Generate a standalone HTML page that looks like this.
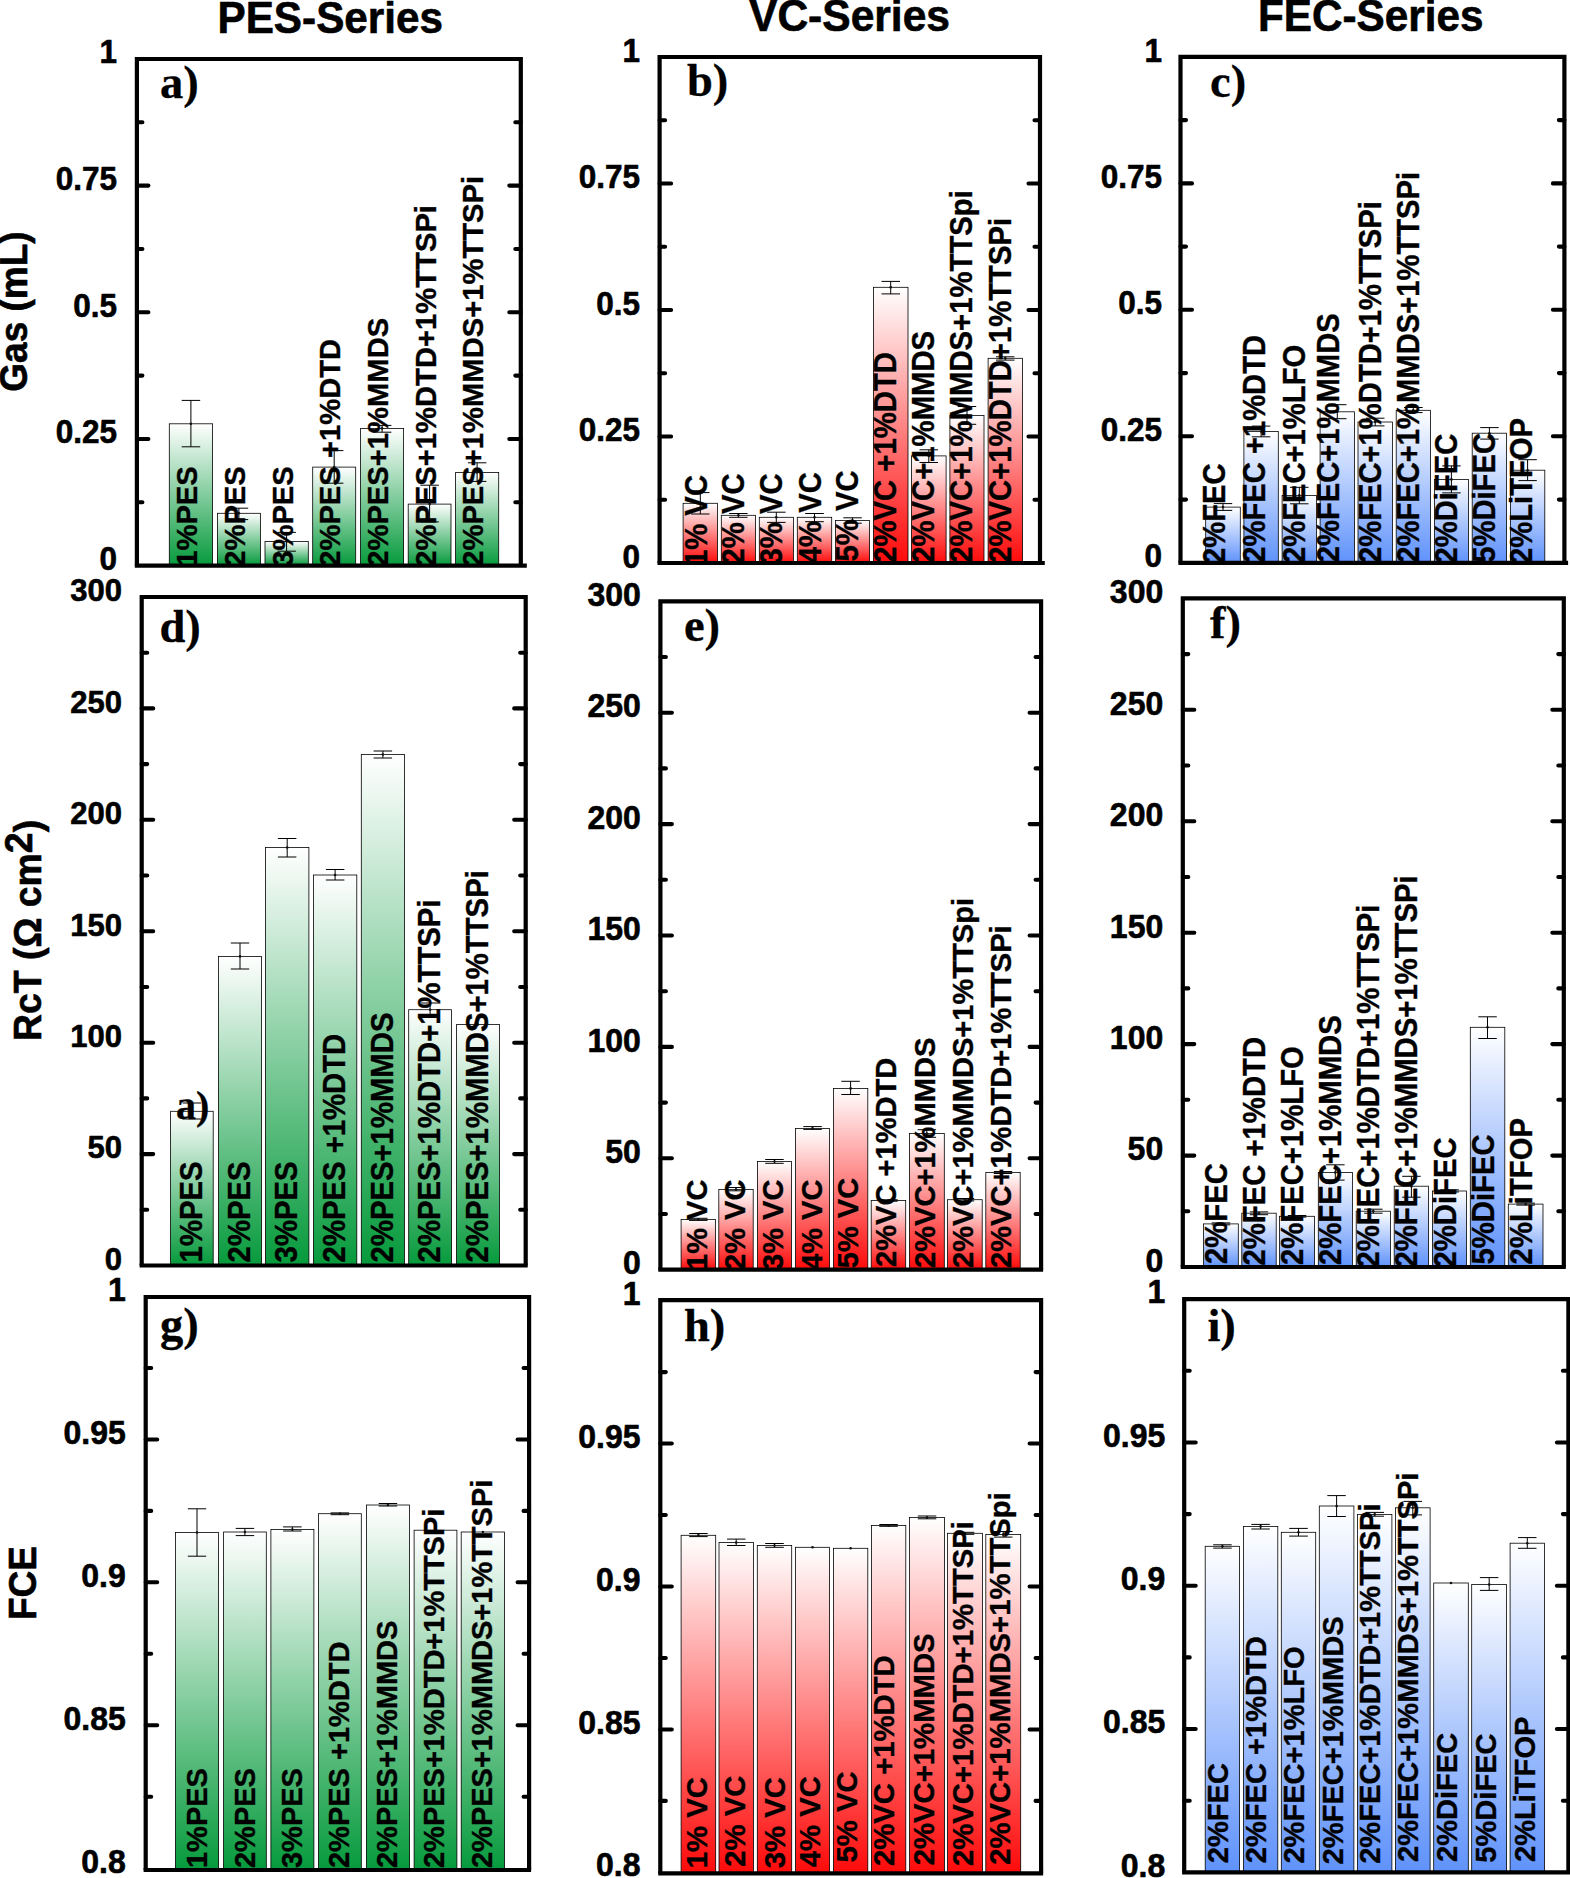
<!DOCTYPE html>
<html lang="en"><head><meta charset="utf-8"><title>Additive series: gas, RcT and FCE</title>
<style>html,body{margin:0;padding:0;background:#fff}body{width:1570px;height:1878px;overflow:hidden}svg{display:block}text{font-family:"Liberation Sans", Arial, Helvetica, sans-serif;font-weight:bold;font-kerning:none;font-variant-ligatures:none;fill:#000;stroke:#000;stroke-width:.6px;stroke-linejoin:round}.bl text{stroke-width:.35px}.ser{font-family:"Liberation Serif", "Times New Roman", Times, serif;stroke-width:.3px}</style>
</head><body>
<svg width="1570" height="1878" viewBox="0 0 1570 1878">
<defs>
<linearGradient id="grg" x1="0" y1="1" x2="0" y2="0"><stop offset="0" stop-color="#069a3c"/><stop offset="1" stop-color="#ffffff"/></linearGradient>
<linearGradient id="grr" x1="0" y1="1" x2="0" y2="0"><stop offset="0" stop-color="#ff0a0a"/><stop offset="1" stop-color="#ffffff"/></linearGradient>
<linearGradient id="grb" x1="0" y1="1" x2="0" y2="0"><stop offset="0" stop-color="#5f92fb"/><stop offset="1" stop-color="#ffffff"/></linearGradient>
<clipPath id="cpa"><rect x="134.9" y="-241.0" width="387.9" height="806.6"/></clipPath>
<clipPath id="cpb"><rect x="657.6" y="-243.0" width="384.4" height="806.0"/></clipPath>
<clipPath id="cpc"><rect x="1178.5" y="-243.1" width="387.9" height="805.9"/></clipPath>
<clipPath id="cpd"><rect x="139.7" y="297.0" width="388.0" height="968.5"/></clipPath>
<clipPath id="cpe"><rect x="658.4" y="301.3" width="384.7" height="968.4"/></clipPath>
<clipPath id="cpf"><rect x="1180.8" y="298.4" width="385.0" height="968.6"/></clipPath>
<clipPath id="cpg"><rect x="143.7" y="997.0" width="387.4" height="873.0"/></clipPath>
<clipPath id="cph"><rect x="658.3" y="1000.2" width="384.8" height="873.2"/></clipPath>
<clipPath id="cpi"><rect x="1182.2" y="999.2" width="388.2" height="873.1"/></clipPath>
</defs>
<rect width="1570" height="1878" fill="#fff"/>
<text transform="translate(217.5 33.0) scale(1 1.040)" font-size="41.8" textLength="225.5" lengthAdjust="spacingAndGlyphs">PES-Series</text>
<text transform="translate(749.0 31.0) scale(1 1.040)" font-size="41.8" textLength="201.0" lengthAdjust="spacingAndGlyphs">VC-Series</text>
<text transform="translate(1258.0 31.0) scale(1 1.040)" font-size="41.8" textLength="225.5" lengthAdjust="spacingAndGlyphs">FEC-Series</text>
<g transform="translate(27.3 391.7) rotate(-90) scale(1 1.040)"><text font-size="37">Gas (mL)</text></g>
<g transform="translate(41.0 1041.0) rotate(-90) scale(1 1.040)"><text font-size="37.4">RcT (&#937; cm<tspan dy="-9">2</tspan><tspan dy="9">)</tspan></text></g>
<g transform="translate(36.3 1620.0) rotate(-90) scale(1 1.040)"><text font-size="37">FCE</text></g>
<g id="panel-a">
<rect x="169.3" y="423.8" width="43.3" height="141.8" fill="url(#grg)" stroke="#000" stroke-width="0.8"/>
<rect x="217.4" y="513.3" width="43.1" height="52.3" fill="url(#grg)" stroke="#000" stroke-width="0.8"/>
<rect x="265.0" y="541.5" width="43.3" height="24.1" fill="url(#grg)" stroke="#000" stroke-width="0.8"/>
<rect x="312.7" y="467.1" width="43.0" height="98.5" fill="url(#grg)" stroke="#000" stroke-width="0.8"/>
<rect x="360.6" y="428.4" width="43.0" height="137.2" fill="url(#grg)" stroke="#000" stroke-width="0.8"/>
<rect x="408.2" y="504.1" width="42.8" height="61.5" fill="url(#grg)" stroke="#000" stroke-width="0.8"/>
<rect x="455.6" y="472.5" width="43.1" height="93.1" fill="url(#grg)" stroke="#000" stroke-width="0.8"/>
<path d="M190.9 400.4V446.8M181.7 400.4H200.2M181.7 446.8H200.2M238.9 508.2V519.6M229.7 508.2H248.2M229.7 519.6H248.2M286.6 532.4V551.2M277.4 532.4H295.9M277.4 551.2H295.9M334.2 450.6V483.2M324.9 450.6H343.4M324.9 483.2H343.4M382.1 425.4V432.2M372.9 425.4H391.4M372.9 432.2H391.4M429.6 485.2V521.9M420.4 485.2H438.9M420.4 521.9H438.9M477.1 462.8V481.4M467.9 462.8H486.4M467.9 481.4H486.4" stroke="#000" stroke-width="1.0" fill="none"/>
<circle cx="190.9" cy="423.8" r="1.3" fill="#111"/>
<circle cx="238.9" cy="513.3" r="1.3" fill="#111"/>
<circle cx="286.6" cy="541.5" r="1.3" fill="#111"/>
<circle cx="334.2" cy="467.1" r="1.3" fill="#111"/>
<circle cx="382.1" cy="428.4" r="1.3" fill="#111"/>
<circle cx="429.6" cy="504.1" r="1.3" fill="#111"/>
<circle cx="477.1" cy="472.5" r="1.3" fill="#111"/>
<g class="bl" clip-path="url(#cpa)">
<text transform="translate(196.9 566.8) rotate(-90) scale(1 1.019)" font-size="29.2">1%PES</text>
<text transform="translate(244.9 566.8) rotate(-90) scale(1 1.019)" font-size="29.2">2%PES</text>
<text transform="translate(292.6 566.8) rotate(-90) scale(1 1.019)" font-size="29.2">3%PES</text>
<text transform="translate(340.2 566.8) rotate(-90) scale(1 1.019)" font-size="29.2">2%PES&#160;+1%DTD</text>
<text transform="translate(388.1 566.8) rotate(-90) scale(1 1.019)" font-size="29.2">2%PES+1%MMDS</text>
<text transform="translate(435.6 566.8) rotate(-90) scale(1 1.019)" font-size="29.2">2%PES+1%DTD+1%TTSPi</text>
<text transform="translate(483.1 566.8) rotate(-90) scale(1 1.019)" font-size="29.2">2%PES+1%MMDS+1%TTSPi</text>
</g>
<path d="M136.9 565.6V59.0H520.8V565.6" stroke="#000" stroke-width="4.2" fill="none" stroke-linejoin="miter"/>
<path d="M134.8 565.6H526.8" stroke="#000" stroke-width="4.2" fill="none"/>
<path d="M136.9 502.3h5.5M520.8 502.3h-5.5M136.9 439.0h11.5M520.8 439.0h-11.5M136.9 375.6h5.5M520.8 375.6h-5.5M136.9 312.3h11.5M520.8 312.3h-11.5M136.9 249.0h5.5M520.8 249.0h-5.5M136.9 185.6h11.5M520.8 185.6h-11.5M136.9 122.3h5.5M520.8 122.3h-5.5" stroke="#000" stroke-width="4.1" fill="none" stroke-linecap="round"/>
<text transform="translate(117.0 569.8) scale(1 1.040)" font-size="31.5" text-anchor="end">0</text>
<text transform="translate(117.0 443.2) scale(1 1.040)" font-size="31.5" text-anchor="end">0.25</text>
<text transform="translate(117.0 316.5) scale(1 1.040)" font-size="31.5" text-anchor="end">0.5</text>
<text transform="translate(117.0 189.8) scale(1 1.040)" font-size="31.5" text-anchor="end">0.75</text>
<text transform="translate(117.0 63.2) scale(1 1.040)" font-size="31.5" text-anchor="end">1</text>
<text class="ser" x="160.0" y="97.8" font-size="46.5">a)</text>
</g>
<g id="panel-b">
<rect x="683.1" y="503.3" width="34.4" height="59.7" fill="url(#grr)" stroke="#000" stroke-width="0.8"/>
<rect x="721.3" y="515.3" width="34.2" height="47.7" fill="url(#grr)" stroke="#000" stroke-width="0.8"/>
<rect x="759.3" y="517.3" width="34.1" height="45.7" fill="url(#grr)" stroke="#000" stroke-width="0.8"/>
<rect x="797.3" y="517.3" width="34.4" height="45.7" fill="url(#grr)" stroke="#000" stroke-width="0.8"/>
<rect x="835.5" y="520.4" width="34.1" height="42.6" fill="url(#grr)" stroke="#000" stroke-width="0.8"/>
<rect x="873.4" y="287.3" width="34.6" height="275.7" fill="url(#grr)" stroke="#000" stroke-width="0.8"/>
<rect x="911.5" y="455.9" width="34.6" height="107.1" fill="url(#grr)" stroke="#000" stroke-width="0.8"/>
<rect x="949.9" y="415.4" width="34.1" height="147.6" fill="url(#grr)" stroke="#000" stroke-width="0.8"/>
<rect x="988.1" y="358.3" width="34.4" height="204.7" fill="url(#grr)" stroke="#000" stroke-width="0.8"/>
<path d="M700.3 492.6V514.0M691.0 492.6H709.5M691.0 514.0H709.5M738.4 513.5V517.3M729.1 513.5H747.6M729.1 517.3H747.6M776.3 512.2V522.4M767.1 512.2H785.6M767.1 522.4H785.6M814.5 513.5V521.7M805.2 513.5H823.8M805.2 521.7H823.8M852.5 517.8V523.2M843.3 517.8H861.8M843.3 523.2H861.8M890.7 281.4V293.9M881.5 281.4H900.0M881.5 293.9H900.0M928.8 449.8V462.5M919.5 449.8H938.0M919.5 462.5H938.0M967.0 406.5V424.3M957.7 406.5H976.2M957.7 424.3H976.2M1005.3 356.8V360.1M996.0 356.8H1014.5M996.0 360.1H1014.5" stroke="#000" stroke-width="1.0" fill="none"/>
<circle cx="700.3" cy="503.3" r="1.3" fill="#111"/>
<circle cx="738.4" cy="515.3" r="1.3" fill="#111"/>
<circle cx="776.3" cy="517.3" r="1.3" fill="#111"/>
<circle cx="814.5" cy="517.3" r="1.3" fill="#111"/>
<circle cx="852.5" cy="520.4" r="1.3" fill="#111"/>
<circle cx="890.7" cy="287.3" r="1.3" fill="#111"/>
<circle cx="928.8" cy="455.9" r="1.3" fill="#111"/>
<circle cx="967.0" cy="415.4" r="1.3" fill="#111"/>
<circle cx="1005.3" cy="358.3" r="1.3" fill="#111"/>
<g class="bl" clip-path="url(#cpb)">
<text transform="translate(707.2 566.1) rotate(-90) scale(1 1.040)" font-size="29.3">1%&#160;VC</text>
<text transform="translate(743.8 564.5) rotate(-90) scale(1 1.040)" font-size="29.3">2%&#160;VC</text>
<text transform="translate(781.7 564.5) rotate(-90) scale(1 1.040)" font-size="29.3">3%&#160;VC</text>
<text transform="translate(820.7 563.3) rotate(-90) scale(1 1.040)" font-size="29.3">4%&#160;VC</text>
<text transform="translate(857.9 561.5) rotate(-90) scale(1 1.040)" font-size="29.3">5%&#160;VC</text>
<text transform="translate(896.1 562.8) rotate(-90) scale(1 1.040)" font-size="29.3">2%VC&#160;+1%DTD</text>
<text transform="translate(934.2 562.8) rotate(-90) scale(1 1.040)" font-size="29.3">2%VC+1%MMDS</text>
<text transform="translate(972.4 562.8) rotate(-90) scale(1 1.040)" font-size="29.3">2%VC+1%MMDS+1%TTSpi</text>
<text transform="translate(1010.7 562.8) rotate(-90) scale(1 1.040)" font-size="29.3">2%VC+1%DTD+1%TTSPi</text>
</g>
<path d="M659.6 563.0V57.0H1040.0V563.0" stroke="#000" stroke-width="4.2" fill="none" stroke-linejoin="miter"/>
<path d="M657.5 563.0H1044.8" stroke="#000" stroke-width="4.2" fill="none"/>
<path d="M659.6 499.8h5.5M1040.0 499.8h-5.5M659.6 436.5h11.5M1040.0 436.5h-11.5M659.6 373.2h5.5M1040.0 373.2h-5.5M659.6 310.0h11.5M1040.0 310.0h-11.5M659.6 246.8h5.5M1040.0 246.8h-5.5M659.6 183.5h11.5M1040.0 183.5h-11.5M659.6 120.2h5.5M1040.0 120.2h-5.5" stroke="#000" stroke-width="4.1" fill="none" stroke-linecap="round"/>
<text transform="translate(640.0 567.8) scale(1 1.040)" font-size="31.5" text-anchor="end">0</text>
<text transform="translate(640.0 441.3) scale(1 1.040)" font-size="31.5" text-anchor="end">0.25</text>
<text transform="translate(640.0 314.8) scale(1 1.040)" font-size="31.5" text-anchor="end">0.5</text>
<text transform="translate(640.0 188.3) scale(1 1.040)" font-size="31.5" text-anchor="end">0.75</text>
<text transform="translate(640.0 61.8) scale(1 1.040)" font-size="31.5" text-anchor="end">1</text>
<text class="ser" x="687.0" y="96.4" font-size="46.5">b)</text>
</g>
<g id="panel-c">
<rect x="1205.7" y="507.1" width="34.6" height="55.7" fill="url(#grb)" stroke="#000" stroke-width="0.8"/>
<rect x="1243.9" y="431.5" width="34.4" height="131.3" fill="url(#grb)" stroke="#000" stroke-width="0.8"/>
<rect x="1282.1" y="495.4" width="34.4" height="67.4" fill="url(#grb)" stroke="#000" stroke-width="0.8"/>
<rect x="1320.1" y="411.8" width="34.4" height="151.0" fill="url(#grb)" stroke="#000" stroke-width="0.8"/>
<rect x="1358.0" y="422.0" width="34.4" height="140.8" fill="url(#grb)" stroke="#000" stroke-width="0.8"/>
<rect x="1396.2" y="410.3" width="34.3" height="152.5" fill="url(#grb)" stroke="#000" stroke-width="0.8"/>
<rect x="1434.4" y="479.4" width="34.0" height="83.4" fill="url(#grb)" stroke="#000" stroke-width="0.8"/>
<rect x="1472.2" y="433.2" width="34.4" height="129.6" fill="url(#grb)" stroke="#000" stroke-width="0.8"/>
<rect x="1510.4" y="470.2" width="34.4" height="92.6" fill="url(#grb)" stroke="#000" stroke-width="0.8"/>
<path d="M1223.0 503.6V510.4M1213.8 503.6H1232.2M1213.8 510.4H1232.2M1261.1 426.1V436.8M1251.8 426.1H1270.3M1251.8 436.8H1270.3M1299.3 487.3V503.8M1290.0 487.3H1308.5M1290.0 503.8H1308.5M1337.3 404.7V418.7M1328.0 404.7H1346.5M1328.0 418.7H1346.5M1375.2 418.2V425.9M1366.0 418.2H1384.5M1366.0 425.9H1384.5M1413.3 407.5V412.6M1404.1 407.5H1422.6M1404.1 412.6H1422.6M1451.4 465.9V492.9M1442.2 465.9H1460.7M1442.2 492.9H1460.7M1489.4 427.6V439.1M1480.2 427.6H1498.7M1480.2 439.1H1498.7M1527.6 459.7V480.6M1518.3 459.7H1536.8M1518.3 480.6H1536.8" stroke="#000" stroke-width="1.0" fill="none"/>
<circle cx="1223.0" cy="507.1" r="1.3" fill="#111"/>
<circle cx="1261.1" cy="431.5" r="1.3" fill="#111"/>
<circle cx="1299.3" cy="495.4" r="1.3" fill="#111"/>
<circle cx="1337.3" cy="411.8" r="1.3" fill="#111"/>
<circle cx="1375.2" cy="422.0" r="1.3" fill="#111"/>
<circle cx="1413.3" cy="410.3" r="1.3" fill="#111"/>
<circle cx="1451.4" cy="479.4" r="1.3" fill="#111"/>
<circle cx="1489.4" cy="433.2" r="1.3" fill="#111"/>
<circle cx="1527.6" cy="470.2" r="1.3" fill="#111"/>
<g class="bl" clip-path="url(#cpc)">
<text transform="translate(1225.0 564.0) rotate(-90) scale(1 1.092)" font-size="29.2">2%FEC</text>
<text transform="translate(1265.4 562.8) rotate(-90) scale(1 1.092)" font-size="29.2">2%FEC&#160;+1%DTD</text>
<text transform="translate(1304.8 563.0) rotate(-90) scale(1 1.092)" font-size="29.2">2%FEC+1%LFO</text>
<text transform="translate(1339.3 562.3) rotate(-90) scale(1 1.092)" font-size="29.2">2%FEC+1%MMDS</text>
<text transform="translate(1380.7 563.0) rotate(-90) scale(1 1.092)" font-size="29.2">2%FEC+1%DTD+1%TTSPi</text>
<text transform="translate(1418.8 562.8) rotate(-90) scale(1 1.092)" font-size="29.2">2%FEC+1%MMDS+1%TTSPi</text>
<text transform="translate(1456.9 563.5) rotate(-90) scale(1 1.092)" font-size="29.2">2%DiFEC</text>
<text transform="translate(1494.9 562.8) rotate(-90) scale(1 1.092)" font-size="29.2">5%DiFEC</text>
<text transform="translate(1531.9 564.0) rotate(-90) scale(1 1.092)" font-size="29.2">2%LiTFOP</text>
</g>
<path d="M1180.5 562.8V56.9H1564.4V562.8" stroke="#000" stroke-width="4.2" fill="none" stroke-linejoin="miter"/>
<path d="M1178.4 562.8H1568.1" stroke="#000" stroke-width="4.2" fill="none"/>
<path d="M1180.5 499.6h5.5M1564.4 499.6h-5.5M1180.5 436.3h11.5M1564.4 436.3h-11.5M1180.5 373.1h5.5M1564.4 373.1h-5.5M1180.5 309.8h11.5M1564.4 309.8h-11.5M1180.5 246.6h5.5M1564.4 246.6h-5.5M1180.5 183.4h11.5M1564.4 183.4h-11.5M1180.5 120.1h5.5M1564.4 120.1h-5.5" stroke="#000" stroke-width="4.1" fill="none" stroke-linecap="round"/>
<text transform="translate(1162.0 567.4) scale(1 1.040)" font-size="31.5" text-anchor="end">0</text>
<text transform="translate(1162.0 440.9) scale(1 1.040)" font-size="31.5" text-anchor="end">0.25</text>
<text transform="translate(1162.0 314.4) scale(1 1.040)" font-size="31.5" text-anchor="end">0.5</text>
<text transform="translate(1162.0 188.0) scale(1 1.040)" font-size="31.5" text-anchor="end">0.75</text>
<text transform="translate(1162.0 61.5) scale(1 1.040)" font-size="31.5" text-anchor="end">1</text>
<text class="ser" x="1210.0" y="97.0" font-size="46.5">c)</text>
</g>
<g id="panel-d">
<rect x="170.6" y="1111.3" width="42.6" height="154.2" fill="url(#grg)" stroke="#000" stroke-width="0.8"/>
<rect x="218.5" y="956.4" width="43.0" height="309.1" fill="url(#grg)" stroke="#000" stroke-width="0.8"/>
<rect x="265.5" y="847.5" width="43.4" height="418.0" fill="url(#grg)" stroke="#000" stroke-width="0.8"/>
<rect x="313.4" y="875.0" width="43.4" height="390.5" fill="url(#grg)" stroke="#000" stroke-width="0.8"/>
<rect x="361.3" y="754.5" width="43.1" height="511.0" fill="url(#grg)" stroke="#000" stroke-width="0.8"/>
<rect x="408.7" y="1009.7" width="42.8" height="255.8" fill="url(#grg)" stroke="#000" stroke-width="0.8"/>
<rect x="456.6" y="1024.5" width="42.8" height="241.0" fill="url(#grg)" stroke="#000" stroke-width="0.8"/>
<path d="M191.9 1103.0V1119.0M182.6 1103.0H201.1M182.6 1119.0H201.1M240.0 943.0V969.0M230.8 943.0H249.2M230.8 969.0H249.2M287.2 838.5V857.0M277.9 838.5H296.4M277.9 857.0H296.4M335.1 869.5V880.0M325.9 869.5H344.4M325.9 880.0H344.4M382.9 751.0V758.0M373.6 751.0H392.1M373.6 758.0H392.1M430.1 1003.0V1016.0M420.9 1003.0H439.4M420.9 1016.0H439.4" stroke="#000" stroke-width="1.0" fill="none"/>
<circle cx="191.9" cy="1111.3" r="1.3" fill="#111"/>
<circle cx="240.0" cy="956.4" r="1.3" fill="#111"/>
<circle cx="287.2" cy="847.5" r="1.3" fill="#111"/>
<circle cx="335.1" cy="875.0" r="1.3" fill="#111"/>
<circle cx="382.9" cy="754.5" r="1.3" fill="#111"/>
<circle cx="430.1" cy="1009.7" r="1.3" fill="#111"/>
<circle cx="478.0" cy="1024.5" r="1.3" fill="#111"/>
<g class="bl" clip-path="url(#cpd)">
<text transform="translate(201.8 1262.4) rotate(-90) scale(1 1.040)" font-size="29.3">1%PES</text>
<text transform="translate(249.9 1262.4) rotate(-90) scale(1 1.040)" font-size="29.3">2%PES</text>
<text transform="translate(297.1 1262.4) rotate(-90) scale(1 1.040)" font-size="29.3">3%PES</text>
<text transform="translate(345.0 1262.4) rotate(-90) scale(1 1.040)" font-size="29.3">2%PES&#160;+1%DTD</text>
<text transform="translate(392.8 1262.4) rotate(-90) scale(1 1.040)" font-size="29.3">2%PES+1%MMDS</text>
<text transform="translate(440.0 1262.4) rotate(-90) scale(1 1.040)" font-size="29.3">2%PES+1%DTD+1%TTSPi</text>
<text transform="translate(487.9 1262.4) rotate(-90) scale(1 1.040)" font-size="29.3">2%PES+1%MMDS+1%TTSPi</text>
</g>
<path d="M141.7 1265.5V597.0H525.7V1265.5" stroke="#000" stroke-width="4.2" fill="none" stroke-linejoin="miter"/>
<path d="M139.6 1265.5H527.7" stroke="#000" stroke-width="4.2" fill="none"/>
<path d="M141.7 1209.8h5.5M525.7 1209.8h-5.5M141.7 1154.1h11.5M525.7 1154.1h-11.5M141.7 1098.4h5.5M525.7 1098.4h-5.5M141.7 1042.7h11.5M525.7 1042.7h-11.5M141.7 987.0h5.5M525.7 987.0h-5.5M141.7 931.2h11.5M525.7 931.2h-11.5M141.7 875.5h5.5M525.7 875.5h-5.5M141.7 819.8h11.5M525.7 819.8h-11.5M141.7 764.1h5.5M525.7 764.1h-5.5M141.7 708.4h11.5M525.7 708.4h-11.5M141.7 652.7h5.5M525.7 652.7h-5.5" stroke="#000" stroke-width="4.1" fill="none" stroke-linecap="round"/>
<text transform="translate(122.0 1269.8) scale(1 1.040)" font-size="31.0" text-anchor="end">0</text>
<text transform="translate(122.0 1158.4) scale(1 1.040)" font-size="31.0" text-anchor="end">50</text>
<text transform="translate(122.0 1047.0) scale(1 1.040)" font-size="31.0" text-anchor="end">100</text>
<text transform="translate(122.0 935.5) scale(1 1.040)" font-size="31.0" text-anchor="end">150</text>
<text transform="translate(122.0 824.1) scale(1 1.040)" font-size="31.0" text-anchor="end">200</text>
<text transform="translate(122.0 712.7) scale(1 1.040)" font-size="31.0" text-anchor="end">250</text>
<text transform="translate(122.0 601.3) scale(1 1.040)" font-size="31.0" text-anchor="end">300</text>
<text class="ser" x="159.5" y="641.8" font-size="46.5">d)</text>
<text class="ser" x="175.9" y="1118.6" font-size="40">a)</text>
</g>
<g id="panel-e">
<rect x="681.1" y="1219.4" width="34.4" height="50.3" fill="url(#grr)" stroke="#000" stroke-width="0.8"/>
<rect x="718.8" y="1189.6" width="34.4" height="80.1" fill="url(#grr)" stroke="#000" stroke-width="0.8"/>
<rect x="757.5" y="1161.5" width="33.9" height="108.2" fill="url(#grr)" stroke="#000" stroke-width="0.8"/>
<rect x="795.5" y="1128.4" width="34.1" height="141.3" fill="url(#grr)" stroke="#000" stroke-width="0.8"/>
<rect x="833.4" y="1088.4" width="34.4" height="181.3" fill="url(#grr)" stroke="#000" stroke-width="0.8"/>
<rect x="871.2" y="1200.4" width="34.5" height="69.3" fill="url(#grr)" stroke="#000" stroke-width="0.8"/>
<rect x="909.4" y="1133.5" width="34.9" height="136.2" fill="url(#grr)" stroke="#000" stroke-width="0.8"/>
<rect x="947.6" y="1199.7" width="34.6" height="70.0" fill="url(#grr)" stroke="#000" stroke-width="0.8"/>
<rect x="985.8" y="1172.5" width="34.4" height="97.2" fill="url(#grr)" stroke="#000" stroke-width="0.8"/>
<path d="M698.3 1218.3V1220.4M689.0 1218.3H707.5M689.0 1220.4H707.5M736.0 1187.5V1190.8M726.8 1187.5H745.2M726.8 1190.8H745.2M774.5 1159.5V1163.3M765.2 1159.5H783.7M765.2 1163.3H783.7M812.5 1126.6V1129.4M803.3 1126.6H821.8M803.3 1129.4H821.8M850.6 1081.3V1094.5M841.3 1081.3H859.8M841.3 1094.5H859.8M888.5 1199.8V1201.2M879.2 1199.8H897.7M879.2 1201.2H897.7M926.8 1129.7V1137.3M917.6 1129.7H936.1M917.6 1137.3H936.1M964.9 1198.5V1200.9M955.7 1198.5H974.2M955.7 1200.9H974.2M1003.0 1171.5V1173.5M993.8 1171.5H1012.2M993.8 1173.5H1012.2" stroke="#000" stroke-width="1.0" fill="none"/>
<circle cx="698.3" cy="1219.4" r="1.3" fill="#111"/>
<circle cx="736.0" cy="1189.6" r="1.3" fill="#111"/>
<circle cx="774.5" cy="1161.5" r="1.3" fill="#111"/>
<circle cx="812.5" cy="1128.4" r="1.3" fill="#111"/>
<circle cx="850.6" cy="1088.4" r="1.3" fill="#111"/>
<circle cx="888.5" cy="1200.4" r="1.3" fill="#111"/>
<circle cx="926.8" cy="1133.5" r="1.3" fill="#111"/>
<circle cx="964.9" cy="1199.7" r="1.3" fill="#111"/>
<circle cx="1003.0" cy="1172.5" r="1.3" fill="#111"/>
<g class="bl" clip-path="url(#cpe)">
<text transform="translate(706.7 1270.0) rotate(-90) scale(1 1.040)" font-size="29.1">1%&#160;VC</text>
<text transform="translate(745.1 1270.0) rotate(-90) scale(1 1.040)" font-size="29.1">2%&#160;VC</text>
<text transform="translate(782.9 1270.0) rotate(-90) scale(1 1.040)" font-size="29.1">3%&#160;VC</text>
<text transform="translate(822.2 1270.0) rotate(-90) scale(1 1.040)" font-size="29.1">4%&#160;VC</text>
<text transform="translate(858.2 1268.3) rotate(-90) scale(1 1.040)" font-size="29.1">5%&#160;VC</text>
<text transform="translate(896.1 1267.0) rotate(-90) scale(1 1.040)" font-size="29.1">2%VC&#160;+1%DTD</text>
<text transform="translate(934.5 1268.0) rotate(-90) scale(1 1.040)" font-size="29.1">2%VC+1%MMDS</text>
<text transform="translate(972.6 1268.0) rotate(-90) scale(1 1.040)" font-size="29.1">2%VC+1%MMDS+1%TTSpi</text>
<text transform="translate(1010.6 1268.0) rotate(-90) scale(1 1.040)" font-size="29.1">2%VC+1%DTD+1%TTSPi</text>
</g>
<path d="M660.4 1269.7V601.3H1041.1V1269.7" stroke="#000" stroke-width="4.2" fill="none" stroke-linejoin="miter"/>
<path d="M658.3 1269.7H1043.1" stroke="#000" stroke-width="4.2" fill="none"/>
<path d="M660.4 1214.0h5.5M1041.1 1214.0h-5.5M660.4 1158.3h11.5M1041.1 1158.3h-11.5M660.4 1102.6h5.5M1041.1 1102.6h-5.5M660.4 1046.9h11.5M1041.1 1046.9h-11.5M660.4 991.2h5.5M1041.1 991.2h-5.5M660.4 935.5h11.5M1041.1 935.5h-11.5M660.4 879.8h5.5M1041.1 879.8h-5.5M660.4 824.1h11.5M1041.1 824.1h-11.5M660.4 768.4h5.5M1041.1 768.4h-5.5M660.4 712.7h11.5M1041.1 712.7h-11.5M660.4 657.0h5.5M1041.1 657.0h-5.5" stroke="#000" stroke-width="4.1" fill="none" stroke-linecap="round"/>
<text transform="translate(640.8 1274.3) scale(1 1.040)" font-size="32.0" text-anchor="end">0</text>
<text transform="translate(640.8 1162.9) scale(1 1.040)" font-size="32.0" text-anchor="end">50</text>
<text transform="translate(640.8 1051.5) scale(1 1.040)" font-size="32.0" text-anchor="end">100</text>
<text transform="translate(640.8 940.1) scale(1 1.040)" font-size="32.0" text-anchor="end">150</text>
<text transform="translate(640.8 828.7) scale(1 1.040)" font-size="32.0" text-anchor="end">200</text>
<text transform="translate(640.8 717.3) scale(1 1.040)" font-size="32.0" text-anchor="end">250</text>
<text transform="translate(640.8 605.9) scale(1 1.040)" font-size="32.0" text-anchor="end">300</text>
<text class="ser" x="683.9" y="641.2" font-size="46.5">e)</text>
</g>
<g id="panel-f">
<rect x="1203.6" y="1223.9" width="34.7" height="43.1" fill="url(#grb)" stroke="#000" stroke-width="0.8"/>
<rect x="1241.8" y="1213.2" width="34.4" height="53.8" fill="url(#grb)" stroke="#000" stroke-width="0.8"/>
<rect x="1279.6" y="1216.3" width="34.9" height="50.7" fill="url(#grb)" stroke="#000" stroke-width="0.8"/>
<rect x="1318.3" y="1172.5" width="34.1" height="94.5" fill="url(#grb)" stroke="#000" stroke-width="0.8"/>
<rect x="1356.2" y="1211.2" width="34.2" height="55.8" fill="url(#grb)" stroke="#000" stroke-width="0.8"/>
<rect x="1394.2" y="1186.2" width="34.4" height="80.8" fill="url(#grb)" stroke="#000" stroke-width="0.8"/>
<rect x="1432.5" y="1191.0" width="34.0" height="76.0" fill="url(#grb)" stroke="#000" stroke-width="0.8"/>
<rect x="1470.3" y="1027.3" width="34.5" height="239.7" fill="url(#grb)" stroke="#000" stroke-width="0.8"/>
<rect x="1508.3" y="1204.1" width="34.7" height="62.9" fill="url(#grb)" stroke="#000" stroke-width="0.8"/>
<path d="M1220.9 1222.9V1224.9M1211.7 1222.9H1230.2M1211.7 1224.9H1230.2M1259.0 1211.9V1214.7M1249.8 1211.9H1268.2M1249.8 1214.7H1268.2M1297.0 1215.5V1217.1M1287.8 1215.5H1306.3M1287.8 1217.1H1306.3M1335.3 1164.8V1180.1M1326.1 1164.8H1344.6M1326.1 1180.1H1344.6M1373.3 1209.2V1213.2M1364.1 1209.2H1382.6M1364.1 1213.2H1382.6M1411.4 1176.3V1197.2M1402.2 1176.3H1420.7M1402.2 1197.2H1420.7M1449.5 1189.8V1192.0M1440.2 1189.8H1458.8M1440.2 1192.0H1458.8M1487.5 1016.8V1038.5M1478.3 1016.8H1496.8M1478.3 1038.5H1496.8M1525.7 1203.1V1205.1M1516.4 1203.1H1534.9M1516.4 1205.1H1534.9" stroke="#000" stroke-width="1.0" fill="none"/>
<circle cx="1220.9" cy="1223.9" r="1.3" fill="#111"/>
<circle cx="1259.0" cy="1213.2" r="1.3" fill="#111"/>
<circle cx="1297.0" cy="1216.3" r="1.3" fill="#111"/>
<circle cx="1335.3" cy="1172.5" r="1.3" fill="#111"/>
<circle cx="1373.3" cy="1211.2" r="1.3" fill="#111"/>
<circle cx="1411.4" cy="1186.2" r="1.3" fill="#111"/>
<circle cx="1449.5" cy="1191.0" r="1.3" fill="#111"/>
<circle cx="1487.5" cy="1027.3" r="1.3" fill="#111"/>
<circle cx="1525.7" cy="1204.1" r="1.3" fill="#111"/>
<g class="bl" clip-path="url(#cpf)">
<text transform="translate(1226.9 1264.1) rotate(-90) scale(1 1.056)" font-size="29.3">2%FEC</text>
<text transform="translate(1265.0 1265.6) rotate(-90) scale(1 1.056)" font-size="29.3">2%FEC&#160;+1%DTD</text>
<text transform="translate(1303.0 1265.1) rotate(-90) scale(1 1.056)" font-size="29.3">2%FEC+1%LFO</text>
<text transform="translate(1341.3 1265.1) rotate(-90) scale(1 1.056)" font-size="29.3">2%FEC+1%MMDS</text>
<text transform="translate(1379.3 1267.6) rotate(-90) scale(1 1.056)" font-size="29.3">2%FEC+1%DTD+1%TTSPi</text>
<text transform="translate(1417.4 1267.6) rotate(-90) scale(1 1.056)" font-size="29.3">2%FEC+1%MMDS+1%TTSPi</text>
<text transform="translate(1455.5 1267.6) rotate(-90) scale(1 1.056)" font-size="29.3">2%DiFEC</text>
<text transform="translate(1493.5 1264.6) rotate(-90) scale(1 1.056)" font-size="29.3">5%DiFEC</text>
<text transform="translate(1531.7 1264.4) rotate(-90) scale(1 1.056)" font-size="29.3">2%LiTFOP</text>
</g>
<path d="M1182.8 1267.0V598.4H1563.8V1267.0" stroke="#000" stroke-width="4.2" fill="none" stroke-linejoin="miter"/>
<path d="M1180.7 1267.0H1565.8" stroke="#000" stroke-width="4.2" fill="none"/>
<path d="M1182.8 1211.3h5.5M1563.8 1211.3h-5.5M1182.8 1155.6h11.5M1563.8 1155.6h-11.5M1182.8 1099.8h5.5M1563.8 1099.8h-5.5M1182.8 1044.1h11.5M1563.8 1044.1h-11.5M1182.8 988.4h5.5M1563.8 988.4h-5.5M1182.8 932.7h11.5M1563.8 932.7h-11.5M1182.8 877.0h5.5M1563.8 877.0h-5.5M1182.8 821.3h11.5M1563.8 821.3h-11.5M1182.8 765.5h5.5M1563.8 765.5h-5.5M1182.8 709.8h11.5M1563.8 709.8h-11.5M1182.8 654.1h5.5M1563.8 654.1h-5.5" stroke="#000" stroke-width="4.1" fill="none" stroke-linecap="round"/>
<text transform="translate(1163.2 1271.8) scale(1 1.040)" font-size="32.0" text-anchor="end">0</text>
<text transform="translate(1163.2 1160.4) scale(1 1.040)" font-size="32.0" text-anchor="end">50</text>
<text transform="translate(1163.2 1048.9) scale(1 1.040)" font-size="32.0" text-anchor="end">100</text>
<text transform="translate(1163.2 937.5) scale(1 1.040)" font-size="32.0" text-anchor="end">150</text>
<text transform="translate(1163.2 826.1) scale(1 1.040)" font-size="32.0" text-anchor="end">200</text>
<text transform="translate(1163.2 714.6) scale(1 1.040)" font-size="32.0" text-anchor="end">250</text>
<text transform="translate(1163.2 603.2) scale(1 1.040)" font-size="32.0" text-anchor="end">300</text>
<text class="ser" x="1210.0" y="637.7" font-size="46.5">f)</text>
</g>
<g id="panel-g">
<rect x="175.4" y="1532.5" width="43.2" height="337.5" fill="url(#grg)" stroke="#000" stroke-width="0.8"/>
<rect x="223.6" y="1532.0" width="42.7" height="338.0" fill="url(#grg)" stroke="#000" stroke-width="0.8"/>
<rect x="270.9" y="1529.5" width="43.0" height="340.5" fill="url(#grg)" stroke="#000" stroke-width="0.8"/>
<rect x="318.5" y="1513.7" width="42.8" height="356.3" fill="url(#grg)" stroke="#000" stroke-width="0.8"/>
<rect x="366.4" y="1505.0" width="43.1" height="365.0" fill="url(#grg)" stroke="#000" stroke-width="0.8"/>
<rect x="414.1" y="1530.2" width="42.8" height="339.8" fill="url(#grg)" stroke="#000" stroke-width="0.8"/>
<rect x="461.2" y="1532.0" width="43.3" height="338.0" fill="url(#grg)" stroke="#000" stroke-width="0.8"/>
<path d="M197.0 1508.8V1556.2M187.8 1508.8H206.2M187.8 1556.2H206.2M244.9 1528.4V1535.6M235.7 1528.4H254.2M235.7 1535.6H254.2M292.4 1526.9V1531.0M283.1 1526.9H301.6M283.1 1531.0H301.6M339.9 1512.9V1514.7M330.6 1512.9H349.1M330.6 1514.7H349.1M387.9 1503.5V1506.0M378.7 1503.5H397.2M378.7 1506.0H397.2" stroke="#000" stroke-width="1.0" fill="none"/>
<circle cx="197.0" cy="1532.5" r="1.3" fill="#111"/>
<circle cx="244.9" cy="1532.0" r="1.3" fill="#111"/>
<circle cx="292.4" cy="1529.5" r="1.3" fill="#111"/>
<circle cx="339.9" cy="1513.7" r="1.3" fill="#111"/>
<circle cx="387.9" cy="1505.0" r="1.3" fill="#111"/>
<circle cx="435.5" cy="1530.2" r="1.3" fill="#111"/>
<circle cx="482.9" cy="1532.0" r="1.3" fill="#111"/>
<g class="bl" clip-path="url(#cpg)">
<text transform="translate(207.0 1868.0) rotate(-90) scale(1 1.040)" font-size="29.0">1%PES</text>
<text transform="translate(254.9 1868.0) rotate(-90) scale(1 1.040)" font-size="29.0">2%PES</text>
<text transform="translate(302.4 1868.0) rotate(-90) scale(1 1.040)" font-size="29.0">3%PES</text>
<text transform="translate(348.9 1868.0) rotate(-90) scale(1 1.040)" font-size="29.0">2%PES&#160;+1%DTD</text>
<text transform="translate(397.2 1868.0) rotate(-90) scale(1 1.040)" font-size="29.0">2%PES+1%MMDS</text>
<text transform="translate(444.1 1868.0) rotate(-90) scale(1 1.040)" font-size="29.0">2%PES+1%DTD+1%TTSPi</text>
<text transform="translate(492.4 1868.0) rotate(-90) scale(1 1.040)" font-size="29.0">2%PES+1%MMDS+1%TTSPi</text>
</g>
<path d="M145.7 1870.0V1297.0H529.1V1870.0" stroke="#000" stroke-width="4.2" fill="none" stroke-linejoin="miter"/>
<path d="M143.6 1870.0H531.1" stroke="#000" stroke-width="4.2" fill="none"/>
<path d="M145.7 1796.7h5.5M529.1 1796.7h-5.5M145.7 1725.2h11.5M529.1 1725.2h-11.5M145.7 1653.8h5.5M529.1 1653.8h-5.5M145.7 1582.3h11.5M529.1 1582.3h-11.5M145.7 1510.9h5.5M529.1 1510.9h-5.5M145.7 1439.5h11.5M529.1 1439.5h-11.5M145.7 1368.0h5.5M529.1 1368.0h-5.5" stroke="#000" stroke-width="4.1" fill="none" stroke-linecap="round"/>
<text transform="translate(125.8 1872.5) scale(1 1.040)" font-size="32.0" text-anchor="end">0.8</text>
<text transform="translate(125.8 1729.6) scale(1 1.040)" font-size="32.0" text-anchor="end">0.85</text>
<text transform="translate(125.8 1586.8) scale(1 1.040)" font-size="32.0" text-anchor="end">0.9</text>
<text transform="translate(125.8 1443.9) scale(1 1.040)" font-size="32.0" text-anchor="end">0.95</text>
<text transform="translate(125.8 1301.0) scale(1 1.040)" font-size="32.0" text-anchor="end">1</text>
<text class="ser" x="160.0" y="1340.2" font-size="46.5">g)</text>
</g>
<g id="panel-h">
<rect x="681.1" y="1535.3" width="34.6" height="338.1" fill="url(#grr)" stroke="#000" stroke-width="0.8"/>
<rect x="719.0" y="1542.5" width="34.4" height="330.9" fill="url(#grr)" stroke="#000" stroke-width="0.8"/>
<rect x="757.3" y="1545.5" width="34.4" height="327.9" fill="url(#grr)" stroke="#000" stroke-width="0.8"/>
<rect x="795.5" y="1547.3" width="34.1" height="326.1" fill="url(#grr)" stroke="#000" stroke-width="0.8"/>
<rect x="833.4" y="1548.3" width="34.4" height="325.1" fill="url(#grr)" stroke="#000" stroke-width="0.8"/>
<rect x="871.4" y="1525.4" width="34.4" height="348.0" fill="url(#grr)" stroke="#000" stroke-width="0.8"/>
<rect x="909.6" y="1517.5" width="34.9" height="355.9" fill="url(#grr)" stroke="#000" stroke-width="0.8"/>
<rect x="947.6" y="1533.3" width="34.9" height="340.1" fill="url(#grr)" stroke="#000" stroke-width="0.8"/>
<rect x="985.8" y="1534.6" width="34.9" height="338.8" fill="url(#grr)" stroke="#000" stroke-width="0.8"/>
<path d="M698.4 1533.5V1536.6M689.2 1533.5H707.7M689.2 1536.6H707.7M736.2 1539.1V1545.5M727.0 1539.1H745.5M727.0 1545.5H745.5M774.5 1543.5V1547.3M765.2 1543.5H783.8M765.2 1547.3H783.8M888.6 1524.5V1526.3M879.3 1524.5H897.8M879.3 1526.3H897.8M927.0 1516.0V1518.8M917.8 1516.0H936.3M917.8 1518.8H936.3M965.0 1532.3V1534.3M955.8 1532.3H974.3M955.8 1534.3H974.3M1003.2 1531.5V1537.1M994.0 1531.5H1012.5M994.0 1537.1H1012.5" stroke="#000" stroke-width="1.0" fill="none"/>
<circle cx="698.4" cy="1535.3" r="1.3" fill="#111"/>
<circle cx="736.2" cy="1542.5" r="1.3" fill="#111"/>
<circle cx="774.5" cy="1545.5" r="1.3" fill="#111"/>
<circle cx="812.5" cy="1547.3" r="1.3" fill="#111"/>
<circle cx="850.6" cy="1548.3" r="1.3" fill="#111"/>
<circle cx="888.6" cy="1525.4" r="1.3" fill="#111"/>
<circle cx="927.0" cy="1517.5" r="1.3" fill="#111"/>
<circle cx="965.0" cy="1533.3" r="1.3" fill="#111"/>
<circle cx="1003.2" cy="1534.6" r="1.3" fill="#111"/>
<g class="bl" clip-path="url(#cph)">
<text transform="translate(706.9 1868.3) rotate(-90) scale(1 1.019)" font-size="29.3">1%&#160;VC</text>
<text transform="translate(745.1 1866.7) rotate(-90) scale(1 1.019)" font-size="29.3">2%&#160;VC</text>
<text transform="translate(784.6 1868.3) rotate(-90) scale(1 1.019)" font-size="29.3">3%&#160;VC</text>
<text transform="translate(820.3 1867.2) rotate(-90) scale(1 1.019)" font-size="29.3">4%&#160;VC</text>
<text transform="translate(857.2 1862.5) rotate(-90) scale(1 1.019)" font-size="29.3">5%&#160;VC</text>
<text transform="translate(894.0 1866.0) rotate(-90) scale(1 1.019)" font-size="29.3">2%VC&#160;+1%DTD</text>
<text transform="translate(933.6 1865.3) rotate(-90) scale(1 1.019)" font-size="29.3">2%VC+1%MMDS</text>
<text transform="translate(972.8 1866.0) rotate(-90) scale(1 1.019)" font-size="29.3">2%VC+1%DTD+1%TTSPi</text>
<text transform="translate(1009.9 1864.8) rotate(-90) scale(1 1.019)" font-size="29.3">2%VC+1%MMDS+1%TTSpi</text>
</g>
<path d="M660.3 1873.4V1300.2H1041.1V1873.4" stroke="#000" stroke-width="4.2" fill="none" stroke-linejoin="miter"/>
<path d="M658.2 1873.4H1043.1" stroke="#000" stroke-width="4.2" fill="none"/>
<path d="M660.3 1800.9h5.5M1041.1 1800.9h-5.5M660.3 1729.5h11.5M1041.1 1729.5h-11.5M660.3 1658.0h5.5M1041.1 1658.0h-5.5M660.3 1586.5h11.5M1041.1 1586.5h-11.5M660.3 1515.0h5.5M1041.1 1515.0h-5.5M660.3 1443.5h11.5M1041.1 1443.5h-11.5M660.3 1372.1h5.5M1041.1 1372.1h-5.5" stroke="#000" stroke-width="4.1" fill="none" stroke-linecap="round"/>
<text transform="translate(640.5 1876.4) scale(1 1.040)" font-size="32.0" text-anchor="end">0.8</text>
<text transform="translate(640.5 1733.5) scale(1 1.040)" font-size="32.0" text-anchor="end">0.85</text>
<text transform="translate(640.5 1590.5) scale(1 1.040)" font-size="32.0" text-anchor="end">0.9</text>
<text transform="translate(640.5 1447.5) scale(1 1.040)" font-size="32.0" text-anchor="end">0.95</text>
<text transform="translate(640.5 1304.6) scale(1 1.040)" font-size="32.0" text-anchor="end">1</text>
<text class="ser" x="683.9" y="1340.9" font-size="46.5">h)</text>
</g>
<g id="panel-i">
<rect x="1205.2" y="1546.3" width="34.4" height="326.0" fill="url(#grb)" stroke="#000" stroke-width="0.8"/>
<rect x="1243.4" y="1526.4" width="34.4" height="345.9" fill="url(#grb)" stroke="#000" stroke-width="0.8"/>
<rect x="1281.3" y="1532.3" width="34.4" height="340.0" fill="url(#grb)" stroke="#000" stroke-width="0.8"/>
<rect x="1319.3" y="1506.0" width="34.6" height="366.3" fill="url(#grb)" stroke="#000" stroke-width="0.8"/>
<rect x="1357.5" y="1514.4" width="34.4" height="357.9" fill="url(#grb)" stroke="#000" stroke-width="0.8"/>
<rect x="1395.5" y="1507.8" width="34.6" height="364.5" fill="url(#grb)" stroke="#000" stroke-width="0.8"/>
<rect x="1433.7" y="1583.0" width="34.6" height="289.3" fill="url(#grb)" stroke="#000" stroke-width="0.8"/>
<rect x="1471.7" y="1584.5" width="34.9" height="287.8" fill="url(#grb)" stroke="#000" stroke-width="0.8"/>
<rect x="1510.1" y="1543.2" width="34.4" height="329.1" fill="url(#grb)" stroke="#000" stroke-width="0.8"/>
<path d="M1222.4 1544.8V1548.1M1213.2 1544.8H1231.7M1213.2 1548.1H1231.7M1260.6 1524.4V1529.0M1251.3 1524.4H1269.8M1251.3 1529.0H1269.8M1298.5 1528.4V1536.1M1289.2 1528.4H1307.8M1289.2 1536.1H1307.8M1336.6 1495.6V1516.5M1327.3 1495.6H1345.8M1327.3 1516.5H1345.8M1374.7 1512.4V1516.2M1365.5 1512.4H1384.0M1365.5 1516.2H1384.0M1412.8 1501.4V1514.9M1403.5 1501.4H1422.0M1403.5 1514.9H1422.0M1489.2 1577.6V1590.4M1479.9 1577.6H1498.4M1479.9 1590.4H1498.4M1527.3 1537.6V1548.3M1518.0 1537.6H1536.5M1518.0 1548.3H1536.5" stroke="#000" stroke-width="1.0" fill="none"/>
<circle cx="1222.4" cy="1546.3" r="1.3" fill="#111"/>
<circle cx="1260.6" cy="1526.4" r="1.3" fill="#111"/>
<circle cx="1298.5" cy="1532.3" r="1.3" fill="#111"/>
<circle cx="1336.6" cy="1506.0" r="1.3" fill="#111"/>
<circle cx="1374.7" cy="1514.4" r="1.3" fill="#111"/>
<circle cx="1412.8" cy="1507.8" r="1.3" fill="#111"/>
<circle cx="1451.0" cy="1583.0" r="1.3" fill="#111"/>
<circle cx="1489.2" cy="1584.5" r="1.3" fill="#111"/>
<circle cx="1527.3" cy="1543.2" r="1.3" fill="#111"/>
<g class="bl" clip-path="url(#cpi)">
<text transform="translate(1228.4 1863.2) rotate(-90) scale(1 1.030)" font-size="29.1">2%FEC</text>
<text transform="translate(1266.1 1863.2) rotate(-90) scale(1 1.030)" font-size="29.1">2%FEC&#160;+1%DTD</text>
<text transform="translate(1303.8 1863.6) rotate(-90) scale(1 1.030)" font-size="29.1">2%FEC+1%LFO</text>
<text transform="translate(1342.6 1864.4) rotate(-90) scale(1 1.030)" font-size="29.1">2%FEC+1%MMDS</text>
<text transform="translate(1380.2 1863.8) rotate(-90) scale(1 1.030)" font-size="29.1">2%FEC+1%DTD+1%TTSPi</text>
<text transform="translate(1418.3 1862.0) rotate(-90) scale(1 1.030)" font-size="29.1">2%FEC+1%MMDS+1%TTSPi</text>
<text transform="translate(1457.0 1862.0) rotate(-90) scale(1 1.030)" font-size="29.1">2%DiFEC</text>
<text transform="translate(1495.9 1862.7) rotate(-90) scale(1 1.030)" font-size="29.1">5%DiFEC</text>
<text transform="translate(1534.9 1862.0) rotate(-90) scale(1 1.030)" font-size="29.1">2%LiTFOP</text>
</g>
<path d="M1184.2 1872.3V1299.2H1568.4V1872.3" stroke="#000" stroke-width="4.2" fill="none" stroke-linejoin="miter"/>
<path d="M1182.1 1872.3H1570.4" stroke="#000" stroke-width="4.2" fill="none"/>
<path d="M1184.2 1800.7h5.5M1568.4 1800.7h-5.5M1184.2 1729.0h11.5M1568.4 1729.0h-11.5M1184.2 1657.4h5.5M1568.4 1657.4h-5.5M1184.2 1585.8h11.5M1568.4 1585.8h-11.5M1184.2 1514.1h5.5M1568.4 1514.1h-5.5M1184.2 1442.5h11.5M1568.4 1442.5h-11.5M1184.2 1370.8h5.5M1568.4 1370.8h-5.5" stroke="#000" stroke-width="4.1" fill="none" stroke-linecap="round"/>
<text transform="translate(1165.3 1876.5) scale(1 1.040)" font-size="32.0" text-anchor="end">0.8</text>
<text transform="translate(1165.3 1733.2) scale(1 1.040)" font-size="32.0" text-anchor="end">0.85</text>
<text transform="translate(1165.3 1590.0) scale(1 1.040)" font-size="32.0" text-anchor="end">0.9</text>
<text transform="translate(1165.3 1446.7) scale(1 1.040)" font-size="32.0" text-anchor="end">0.95</text>
<text transform="translate(1165.3 1303.4) scale(1 1.040)" font-size="32.0" text-anchor="end">1</text>
<text class="ser" x="1207.4" y="1340.8" font-size="46.5">i)</text>
</g>
</svg></body></html>
